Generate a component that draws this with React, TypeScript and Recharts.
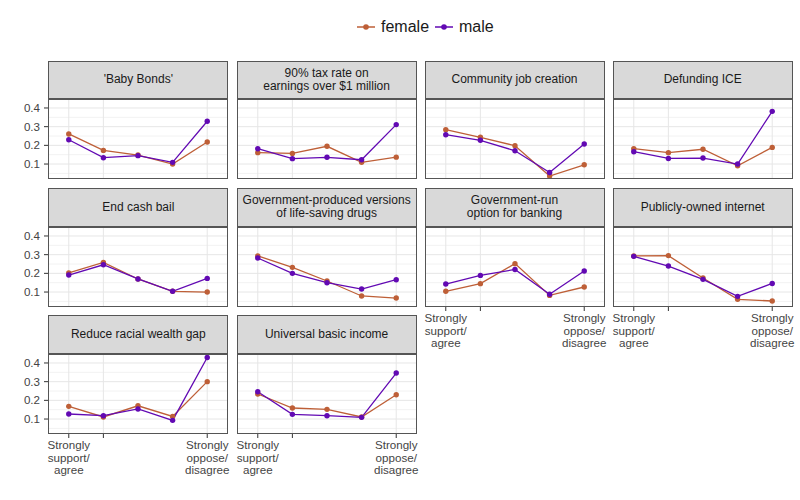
import React from "react";
import { LineChart, Line, XAxis, YAxis, CartesianGrid } from "recharts";

const responses = [1, 2, 3, 4, 5];
const xTickValues = [1, 2, 5];
const xTickLines: string[][] = [
  ["Strongly", "support/", "agree"],
  [],
  ["Strongly", "oppose/", "disagree"],
];
const yTickValues = [0.1, 0.2, 0.3, 0.4];
const yMinorValues = [0.05, 0.15, 0.25, 0.35];

const topicTitles: string[][] = [
  ["'Baby Bonds'"],
  ["90% tax rate on", "earnings over $1 million"],
  ["Community job creation"],
  ["Defunding ICE"],
  ["End cash bail"],
  ["Government-produced versions", "of life-saving drugs"],
  ["Government-run", "option for banking"],
  ["Publicly-owned internet"],
  ["Reduce racial wealth gap"],
  ["Universal basic income"],
];

const femaleByTopic: number[][] = [
  [0.261, 0.173, 0.148, 0.1, 0.218],
  [0.161, 0.157, 0.195, 0.109, 0.137],
  [0.284, 0.243, 0.198, 0.036, 0.096],
  [0.182, 0.161, 0.179, 0.091, 0.189],
  [0.202, 0.259, 0.17, 0.104, 0.1],
  [0.293, 0.232, 0.159, 0.079, 0.068],
  [0.104, 0.145, 0.252, 0.082, 0.127],
  [0.293, 0.295, 0.175, 0.061, 0.052],
  [0.168, 0.111, 0.171, 0.114, 0.3],
  [0.234, 0.159, 0.152, 0.111, 0.23],
];

const maleByTopic: number[][] = [
  [0.23, 0.134, 0.145, 0.109, 0.329],
  [0.182, 0.129, 0.136, 0.123, 0.311],
  [0.257, 0.227, 0.171, 0.055, 0.207],
  [0.166, 0.13, 0.132, 0.1, 0.382],
  [0.191, 0.246, 0.17, 0.104, 0.173],
  [0.282, 0.2, 0.15, 0.116, 0.166],
  [0.143, 0.189, 0.221, 0.088, 0.213],
  [0.291, 0.239, 0.168, 0.077, 0.146],
  [0.127, 0.118, 0.154, 0.093, 0.429],
  [0.246, 0.125, 0.118, 0.109, 0.346],
];

const FEMALE = "#BE5F37";
const MALE = "#6209B3";
const FONT = "'Liberation Sans', Arial, Helvetica, sans-serif";

const colLefts = [48.3, 236.6, 424.5, 612.7];
const rowTops = [60.6, 188.2, 315];
const STRIP_H = 38.6;
const PANEL_W = 180;
const PANEL_H = 80;
const Y_W = 48;
const X_H = 60;
const X_PAD = 24;

const XTick = (props: any) => {
  const { x, y, payload } = props;
  const idx = xTickValues.indexOf(payload.value);
  const lines = idx >= 0 ? xTickLines[idx] : [];
  return (
    <text x={x} y={y} textAnchor="middle" fill="#444" fontSize={11.6} fontFamily={FONT}>
      {lines.map((l, i) => (
        <tspan key={i} x={x} dy={i === 0 ? "0.71em" : "1.08em"}>
          {l}
        </tspan>
      ))}
    </text>
  );
};

function Panel({ index }: { index: number }) {
  const row = Math.floor(index / 4);
  const col = index % 4;
  const showY = col === 0;
  const showX = row === 2 || (row === 1 && col >= 2);
  const left = colLefts[col];
  const top = rowTops[row];
  const panelTop = top + STRIP_H;
  const padL = showY ? Y_W : showX ? X_PAD : 0;
  const padR = showX ? X_PAD : 0;
  const data = responses.map((r, i) => ({
    x: r,
    female: femaleByTopic[index][i],
    male: maleByTopic[index][i],
  }));
  const title = topicTitles[index];
  return (
    <>
      <div
        style={{
          position: "absolute",
          left,
          top,
          width: PANEL_W,
          height: STRIP_H,
          boxSizing: "border-box",
          border: "1px solid #555",
          background: "#d9d9d9",
          display: "flex",
          flexDirection: "column",
          alignItems: "center",
          justifyContent: "center",
          fontFamily: FONT,
          fontSize: 12,
          color: "#1a1a1a",
          lineHeight: "13px",
        }}
      >
        {title.map((t, i) => (
          <div key={i}>{t}</div>
        ))}
      </div>
      <div
        style={{
          position: "absolute",
          left: left - padL,
          top: panelTop,
        }}
      >
        <LineChart
          width={PANEL_W + padL + padR}
          height={PANEL_H + (showX ? X_H : 0)}
          data={data}
          margin={{ top: 0, right: padR, bottom: 0, left: showY ? 0 : padL }}
        >
          <CartesianGrid
            horizontalValues={yMinorValues}
            vertical={false}
            stroke="#f2f2f2"
            strokeWidth={1}
          />
          <CartesianGrid
            horizontalValues={yTickValues}
            verticalValues={xTickValues}
            stroke="#e6e6e6"
            strokeWidth={1}
          />
          <XAxis
            dataKey="x"
            type="number"
            domain={[0.4, 5.6]}
            allowDataOverflow
            ticks={xTickValues}
            hide={!showX}
            height={X_H}
            axisLine={false}
            tickSize={4}
            tickMargin={3}
            tickLine={{ stroke: "#333" }}
            tick={<XTick />}
            interval={0}
          />
          <YAxis
            type="number"
            domain={[0.02, 0.448]}
            allowDataOverflow
            ticks={yTickValues}
            hide={!showY}
            width={Y_W}
            axisLine={false}
            tickSize={4}
            tickMargin={4}
            tickLine={{ stroke: "#333" }}
            tickFormatter={(v: number) => v.toFixed(1)}
            tick={{ fill: "#444", fontSize: 11.6, fontFamily: FONT }}
            interval={0}
          />
          <Line
            dataKey="female"
            stroke={FEMALE}
            strokeWidth={1.3}
            dot={{ r: 2.7, fill: FEMALE, stroke: FEMALE, strokeWidth: 0 }}
            activeDot={false}
            isAnimationActive={false}
          />
          <Line
            dataKey="male"
            stroke={MALE}
            strokeWidth={1.3}
            dot={{ r: 2.7, fill: MALE, stroke: MALE, strokeWidth: 0 }}
            activeDot={false}
            isAnimationActive={false}
          />
        </LineChart>
      </div>
      <div
        style={{
          position: "absolute",
          left,
          top: panelTop,
          width: PANEL_W,
          height: PANEL_H,
          boxSizing: "border-box",
          border: "1px solid #555",
          pointerEvents: "none",
        }}
      />
    </>
  );
}

function LegendItem({ color, label }: { color: string; label: string }) {
  return (
    <div style={{ display: "flex", alignItems: "center", marginRight: 6 }}>
      <svg width={18} height={10} style={{ marginRight: 6 }}>
        <line x1={0} y1={5} x2={18} y2={5} stroke={color} strokeWidth={1.5} />
        <circle cx={9} cy={5} r={2.8} fill={color} />
      </svg>
      <span>{label}</span>
    </div>
  );
}

export default function App() {
  return (
    <div
      style={{
        position: "absolute",
        left: 0,
        top: 0,
        width: 800,
        height: 500,
        background: "#fff",
        overflow: "hidden",
      }}
    >
      <div
        style={{
          position: "absolute",
          left: 357,
          top: 17,
          display: "flex",
          fontFamily: FONT,
          fontSize: 16,
          color: "#1a1a1a",
          lineHeight: "20px",
        }}
      >
        <LegendItem color={FEMALE} label="female" />
        <LegendItem color={MALE} label="male" />
      </div>
      {topicTitles.map((_, i) => (
        <Panel key={i} index={i} />
      ))}
    </div>
  );
}
